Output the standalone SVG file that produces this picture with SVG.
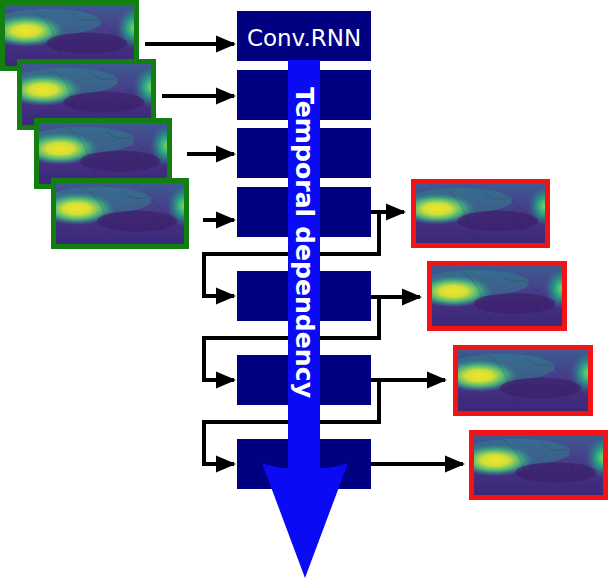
<svg xmlns="http://www.w3.org/2000/svg" width="608" height="580" viewBox="0 0 608 580">
<style>
.box{fill:#000080}
.c{fill:none;stroke:#000;stroke-width:4}
.g{stroke:#118011;stroke-width:5}
.r{stroke:#f21414;stroke-width:5}
</style>
<defs>
<marker id="ah" markerWidth="5" markerHeight="5" refX="4.5" refY="2.5" orient="auto" markerUnits="strokeWidth"><path d="M0,0.4 L5,2.5 L0,4.6 Z" fill="#000"/></marker>
<linearGradient id="bg" x1="0" y1="0" x2="0" y2="1"><stop offset="0" stop-color="#3d5a90"/><stop offset="0.35" stop-color="#46428c"/><stop offset="0.7" stop-color="#432e80"/><stop offset="1" stop-color="#3b2877"/></linearGradient>
<radialGradient id="yl" cx="0.5" cy="0.5" r="0.5"><stop offset="0" stop-color="#f2e52a"/><stop offset="0.35" stop-color="#d0e038"/><stop offset="0.65" stop-color="#4cb47a"/><stop offset="1" stop-color="#2d8f8e" stop-opacity="0"/></radialGradient>
<radialGradient id="tl" cx="0.5" cy="0.5" r="0.5"><stop offset="0" stop-color="#7bd55a"/><stop offset="0.4" stop-color="#2aa585"/><stop offset="1" stop-color="#27808e" stop-opacity="0"/></radialGradient>
<symbol id="map" viewBox="0 0 134 64" preserveAspectRatio="none">
<rect width="134" height="64" fill="url(#bg)"/>
<ellipse cx="45" cy="18" rx="55" ry="14" fill="#2f8a8c" opacity="0.45"/>
<ellipse cx="22" cy="27" rx="40" ry="17" fill="url(#yl)"/>
<ellipse cx="134" cy="24" rx="18" ry="22" fill="url(#tl)"/>
<ellipse cx="85" cy="40" rx="42" ry="11" fill="#3a1d68" opacity="0.6"/>
<path d="M30,5 Q45,15 50,30 Q55,45 60,60 M70,8 Q80,20 95,15 Q110,25 120,40 M100,30 Q105,45 115,50" fill="none" stroke="#222" stroke-width="0.4" opacity="0.5"/>
</symbol>
</defs>
<g id="inputs">
<g id="in1"><rect x="2.5" y="2.5" width="134" height="66" class="g" fill="none"/><use href="#map" x="5" y="5" width="129" height="61"/></g>
<g id="in2"><rect x="19.5" y="61.5" width="134" height="66" class="g" fill="#fff"/><use href="#map" x="22" y="64" width="129" height="61"/></g>
<g id="in3"><rect x="36.5" y="120.5" width="133" height="66" class="g" fill="#fff"/><use href="#map" x="39" y="123" width="128" height="61"/></g>
<g id="in4"><rect x="53.5" y="180.5" width="133" height="66" class="g" fill="#fff"/><use href="#map" x="56" y="183" width="128" height="61"/></g>
</g>
<g id="outputs">
<g id="out1"><rect x="413.5" y="181.5" width="134" height="64" class="r" fill="#fff"/><use href="#map" x="416" y="184" width="129" height="59"/></g>
<g id="out2"><rect x="429.5" y="263.5" width="135" height="65" class="r" fill="#fff"/><use href="#map" x="432" y="266" width="130" height="60"/></g>
<g id="out3"><rect x="455.5" y="347.5" width="135" height="66" class="r" fill="#fff"/><use href="#map" x="458" y="350" width="130" height="61"/></g>
<g id="out4"><rect x="471.5" y="432.5" width="134" height="65" class="r" fill="#fff"/><use href="#map" x="474" y="435" width="129" height="60"/></g>
</g>
<g id="cells">
<g id="cell1"><rect class="box" x="237" y="11" width="134" height="50"/></g>
<g id="cell2"><rect class="box" x="237" y="70" width="134" height="50"/></g>
<g id="cell3"><rect class="box" x="237" y="128" width="134" height="50"/></g>
<g id="cell4"><rect class="box" x="237" y="187" width="134" height="50"/></g>
<g id="cell5"><rect class="box" x="237" y="271" width="134" height="50"/></g>
<g id="cell6"><rect class="box" x="237" y="355" width="134" height="50"/></g>
<g id="cell7"><rect class="box" x="237" y="439" width="134" height="50"/></g>
</g>
<g id="connectors">
<path class="c" marker-end="url(#ah)" d="M145,44 H234"/>
<path class="c" marker-end="url(#ah)" d="M162,96 H234"/>
<path class="c" marker-end="url(#ah)" d="M187,154 H234"/>
<path class="c" marker-end="url(#ah)" d="M203,220 H234"/>
<path class="c" marker-end="url(#ah)" d="M371,212 H404"/>
<path class="c" marker-end="url(#ah)" d="M371,297 H420"/>
<path class="c" marker-end="url(#ah)" d="M371,380 H445"/>
<path class="c" marker-end="url(#ah)" d="M371,464 H463"/>
<path class="c" marker-end="url(#ah)" d="M379,212 V254 H204 V296 H234"/>
<path class="c" marker-end="url(#ah)" d="M379,297 V338 H204 V380 H234"/>
<path class="c" marker-end="url(#ah)" d="M379,380 V422 H204 V464 H234"/>
</g>
<g id="temporal">
<path d="M288,60 H320 V468 Q335,468 348,463 L305,578 L262,463 Q275,468 288,468 Z" fill="#0a0af5"/>
<text transform="translate(296,87) rotate(90)" font-family="DejaVu Sans, sans-serif" font-weight="bold" font-size="25" textLength="311" lengthAdjust="spacingAndGlyphs" fill="#fff">Temporal dependency</text>
</g>
<text x="304" y="46" text-anchor="middle" font-family="DejaVu Sans, sans-serif" font-size="23" fill="#fff">Conv.RNN</text>
</svg>
